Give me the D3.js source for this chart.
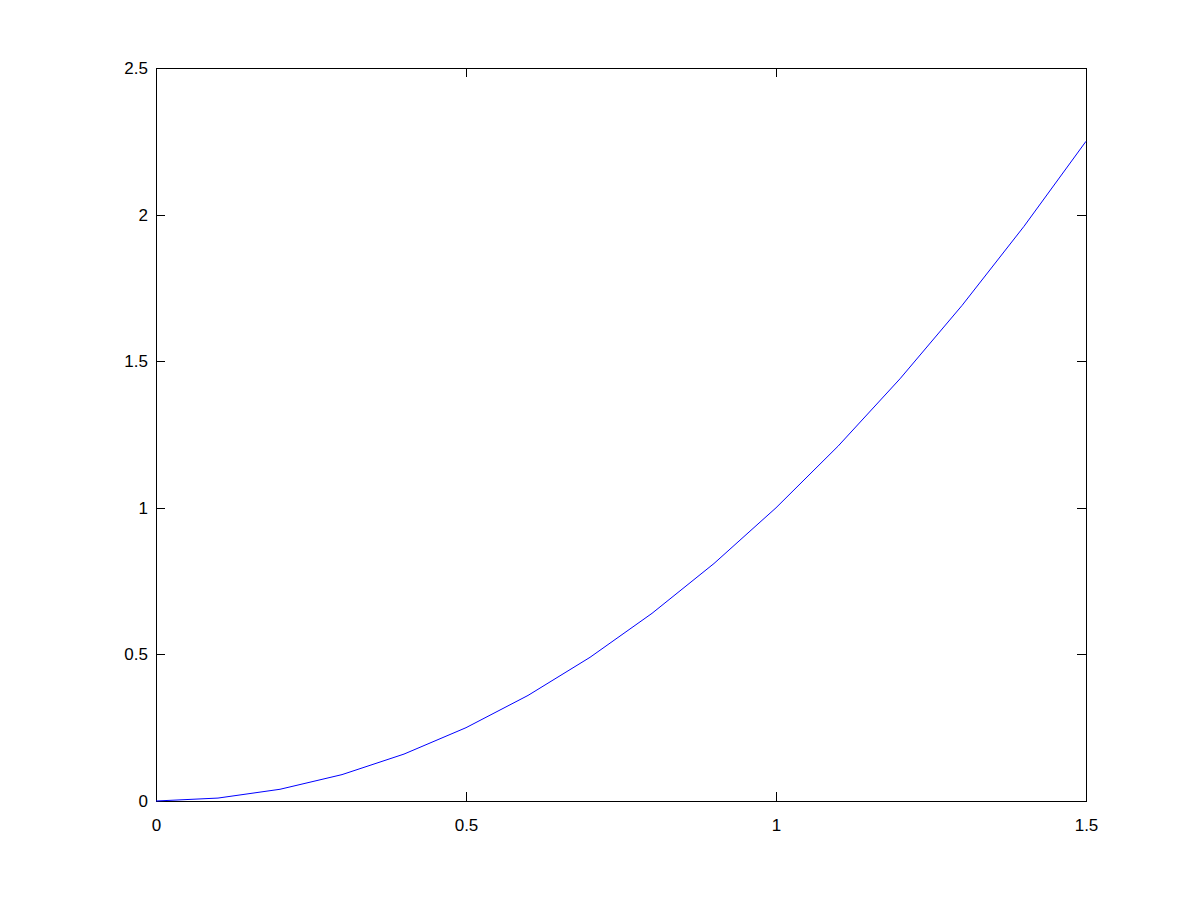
<!DOCTYPE html>
<html>
<head>
<meta charset="utf-8">
<script src="https://cdn.jsdelivr.net/npm/d3@7"></script>
<style>
  html, body { margin: 0; padding: 0; background: #fff; }
  svg { display: block; }
  .axis text { font-family: 'Liberation Sans', Arial, Helvetica, sans-serif; font-size: 17px; fill: #000; }
  .axis path, .axis line { stroke: #000; stroke-width: 1; shape-rendering: crispEdges; }
</style>
</head>
<body>
<svg id="chart" width="1200" height="900"></svg>
<script>
// DATA
const xValues = [0, 0.1, 0.2, 0.3, 0.4, 0.5, 0.6, 0.7, 0.8, 0.9, 1.0, 1.1, 1.2, 1.3, 1.4, 1.5];
const yValues = [0, 0.01, 0.04, 0.09, 0.16, 0.25, 0.36, 0.49, 0.64, 0.81, 1.0, 1.21, 1.44, 1.69, 1.96, 2.25];
const xTicks = [0, 0.5, 1, 1.5];
const yTicks = [0, 0.5, 1, 1.5, 2, 2.5];

// SETUP
let svg = d3.select('svg'),
  margin = { top: 68, right: 114, bottom: 99, left: 156 },
  width = 1200 - margin.left - margin.right,
  height = 900 - margin.top - margin.bottom,
  x = d3.scaleLinear().domain([0, 1.5]).range([0, width]),
  y = d3.scaleLinear().domain([0, 2.5]).range([height, 0]);

let g = svg.append('g')
  .attr('transform', 'translate(' + margin.left + ',' + margin.top + ')');

const fmt = d => String(d);

// AXES (ticks inward on all four sides, like a boxed plot)
g.append('g').attr('class', 'axis')
  .attr('transform', 'translate(0,' + height + ')')
  .call(d3.axisBottom(x).tickValues(xTicks).tickFormat(fmt).tickSizeInner(-9).tickSizeOuter(0).tickPadding(18));
g.append('g').attr('class', 'axis')
  .call(d3.axisTop(x).tickValues(xTicks).tickFormat('').tickSizeInner(-9).tickSizeOuter(0));
g.append('g').attr('class', 'axis')
  .call(d3.axisLeft(y).tickValues(yTicks).tickFormat(fmt).tickSizeInner(-9).tickSizeOuter(0).tickPadding(8));
g.append('g').attr('class', 'axis')
  .attr('transform', 'translate(' + width + ',0)')
  .call(d3.axisRight(y).tickValues(yTicks).tickFormat('').tickSizeInner(-9).tickSizeOuter(0));

// LINE
const line = d3.line()
  .x((d, i) => x(xValues[i]))
  .y(d => y(d));

g.append('path')
  .datum(yValues)
  .attr('fill', 'none')
  .attr('stroke', '#0000ff')
  .attr('stroke-width', 1)
  .attr('d', line);
</script>
</body>
</html>
